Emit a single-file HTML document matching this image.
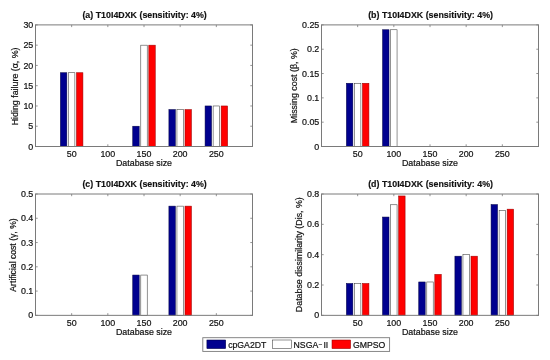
<!DOCTYPE html>
<html lang="en"><head><meta charset="utf-8"><title>T10I4DXK (sensitivity: 4%)</title>
<style>html,body{margin:0;padding:0;background:#fff}body{width:550px;height:360px;overflow:hidden}svg{display:block}</style>
</head><body>
<svg width="550" height="360" viewBox="0 0 550 360" font-family="&quot;Liberation Sans&quot;, sans-serif">
<rect width="550" height="360" fill="#fff"/>
<g><path d="M35.5 146.50h2.2M252.5 146.50h-2.2M35.5 126.23h2.2M252.5 126.23h-2.2M35.5 105.97h2.2M252.5 105.97h-2.2M35.5 85.70h2.2M252.5 85.70h-2.2M35.5 65.43h2.2M252.5 65.43h-2.2M35.5 45.17h2.2M252.5 45.17h-2.2M35.5 24.90h2.2M252.5 24.90h-2.2M71.67 146.5v-2.2M71.67 24.9v2.2M107.83 146.5v-2.2M107.83 24.9v2.2M144.00 146.5v-2.2M144.00 24.9v2.2M180.17 146.5v-2.2M180.17 24.9v2.2M216.33 146.5v-2.2M216.33 24.9v2.2" stroke="#7a7a7a" stroke-width="0.8" fill="none"/><rect x="60.41" y="72.73" width="6.43" height="73.77" fill="#00008f" stroke="#000048" stroke-width="0.55"/><rect x="68.45" y="72.73" width="6.43" height="73.77" fill="#ffffff" stroke="#3a3a3a" stroke-width="0.55"/><rect x="76.49" y="72.73" width="6.43" height="73.77" fill="#ff0000" stroke="#9a0000" stroke-width="0.55"/><rect x="132.75" y="126.23" width="6.43" height="20.27" fill="#00008f" stroke="#000048" stroke-width="0.55"/><rect x="140.79" y="45.17" width="6.43" height="101.33" fill="#ffffff" stroke="#3a3a3a" stroke-width="0.55"/><rect x="148.82" y="45.17" width="6.43" height="101.33" fill="#ff0000" stroke="#9a0000" stroke-width="0.55"/><rect x="168.91" y="109.61" width="6.43" height="36.89" fill="#00008f" stroke="#000048" stroke-width="0.55"/><rect x="176.95" y="109.61" width="6.43" height="36.89" fill="#ffffff" stroke="#3a3a3a" stroke-width="0.55"/><rect x="184.99" y="109.61" width="6.43" height="36.89" fill="#ff0000" stroke="#9a0000" stroke-width="0.55"/><rect x="205.08" y="105.97" width="6.43" height="40.53" fill="#00008f" stroke="#000048" stroke-width="0.55"/><rect x="213.12" y="105.97" width="6.43" height="40.53" fill="#ffffff" stroke="#3a3a3a" stroke-width="0.55"/><rect x="221.16" y="105.97" width="6.43" height="40.53" fill="#ff0000" stroke="#9a0000" stroke-width="0.55"/><path d="M35.0 24.9H253.0M35.0 146.5H253.0M35.5 24.9V146.5M252.5 24.9V146.5" fill="none" stroke="#7a7a7a" stroke-width="1"/><text x="33.3" y="149.60" font-size="8.9" text-anchor="end" fill="#111" stroke="#111" stroke-width="0.2">0</text><text x="33.3" y="129.33" font-size="8.9" text-anchor="end" fill="#111" stroke="#111" stroke-width="0.2">5</text><text x="33.3" y="109.07" font-size="8.9" text-anchor="end" fill="#111" stroke="#111" stroke-width="0.2">10</text><text x="33.3" y="88.80" font-size="8.9" text-anchor="end" fill="#111" stroke="#111" stroke-width="0.2">15</text><text x="33.3" y="68.53" font-size="8.9" text-anchor="end" fill="#111" stroke="#111" stroke-width="0.2">20</text><text x="33.3" y="48.27" font-size="8.9" text-anchor="end" fill="#111" stroke="#111" stroke-width="0.2">25</text><text x="33.3" y="28.00" font-size="8.9" text-anchor="end" fill="#111" stroke="#111" stroke-width="0.2">30</text><text x="71.67" y="156.75" font-size="8.9" text-anchor="middle" fill="#111" stroke="#111" stroke-width="0.2">50</text><text x="107.83" y="156.75" font-size="8.9" text-anchor="middle" fill="#111" stroke="#111" stroke-width="0.2">100</text><text x="144.00" y="156.75" font-size="8.9" text-anchor="middle" fill="#111" stroke="#111" stroke-width="0.2">150</text><text x="180.17" y="156.75" font-size="8.9" text-anchor="middle" fill="#111" stroke="#111" stroke-width="0.2">200</text><text x="216.33" y="156.75" font-size="8.9" text-anchor="middle" fill="#111" stroke="#111" stroke-width="0.2">250</text><text x="144.00" y="166.0" font-size="8.85" text-anchor="middle" fill="#111" stroke="#111" stroke-width="0.2">Database size</text><text x="144.60" y="18.05" font-size="8.85" font-weight="bold" text-anchor="middle" fill="#111" stroke="#111" stroke-width="0.15">(a) T10I4DXK (sensitivity: 4%)</text><text transform="translate(18.1,86.40) rotate(-90)" font-size="8.85" text-anchor="middle" fill="#111" stroke="#111" stroke-width="0.2">Hiding failure (α, %)</text></g>
<g><path d="M321.5 146.50h2.2M538.5 146.50h-2.2M321.5 122.18h2.2M538.5 122.18h-2.2M321.5 97.86h2.2M538.5 97.86h-2.2M321.5 73.54h2.2M538.5 73.54h-2.2M321.5 49.22h2.2M538.5 49.22h-2.2M321.5 24.90h2.2M538.5 24.90h-2.2M357.67 146.5v-2.2M357.67 24.9v2.2M393.83 146.5v-2.2M393.83 24.9v2.2M430.00 146.5v-2.2M430.00 24.9v2.2M466.17 146.5v-2.2M466.17 24.9v2.2M502.33 146.5v-2.2M502.33 24.9v2.2" stroke="#7a7a7a" stroke-width="0.8" fill="none"/><rect x="346.41" y="83.27" width="6.43" height="63.23" fill="#00008f" stroke="#000048" stroke-width="0.55"/><rect x="354.45" y="83.27" width="6.43" height="63.23" fill="#ffffff" stroke="#3a3a3a" stroke-width="0.55"/><rect x="362.49" y="83.27" width="6.43" height="63.23" fill="#ff0000" stroke="#9a0000" stroke-width="0.55"/><rect x="382.58" y="29.76" width="6.43" height="116.74" fill="#00008f" stroke="#000048" stroke-width="0.55"/><rect x="390.62" y="29.76" width="6.43" height="116.74" fill="#ffffff" stroke="#3a3a3a" stroke-width="0.55"/><path d="M321.0 24.9H539.0M321.0 146.5H539.0M321.5 24.9V146.5M538.5 24.9V146.5" fill="none" stroke="#7a7a7a" stroke-width="1"/><text x="319.3" y="149.60" font-size="8.9" text-anchor="end" fill="#111" stroke="#111" stroke-width="0.2">0</text><text x="319.3" y="125.28" font-size="8.9" text-anchor="end" fill="#111" stroke="#111" stroke-width="0.2">0.05</text><text x="319.3" y="100.96" font-size="8.9" text-anchor="end" fill="#111" stroke="#111" stroke-width="0.2">0.1</text><text x="319.3" y="76.64" font-size="8.9" text-anchor="end" fill="#111" stroke="#111" stroke-width="0.2">0.15</text><text x="319.3" y="52.32" font-size="8.9" text-anchor="end" fill="#111" stroke="#111" stroke-width="0.2">0.2</text><text x="319.3" y="28.00" font-size="8.9" text-anchor="end" fill="#111" stroke="#111" stroke-width="0.2">0.25</text><text x="357.67" y="156.75" font-size="8.9" text-anchor="middle" fill="#111" stroke="#111" stroke-width="0.2">50</text><text x="393.83" y="156.75" font-size="8.9" text-anchor="middle" fill="#111" stroke="#111" stroke-width="0.2">100</text><text x="430.00" y="156.75" font-size="8.9" text-anchor="middle" fill="#111" stroke="#111" stroke-width="0.2">150</text><text x="466.17" y="156.75" font-size="8.9" text-anchor="middle" fill="#111" stroke="#111" stroke-width="0.2">200</text><text x="502.33" y="156.75" font-size="8.9" text-anchor="middle" fill="#111" stroke="#111" stroke-width="0.2">250</text><text x="430.00" y="166.0" font-size="8.85" text-anchor="middle" fill="#111" stroke="#111" stroke-width="0.2">Database size</text><text x="430.60" y="18.05" font-size="8.85" font-weight="bold" text-anchor="middle" fill="#111" stroke="#111" stroke-width="0.15">(b) T10I4DXK (sensitivity: 4%)</text><text transform="translate(297.0,85.70) rotate(-90)" font-size="8.85" text-anchor="middle" fill="#111" stroke="#111" stroke-width="0.2">Missing cost (β, %)</text></g>
<g><path d="M35.5 315.35h2.2M252.5 315.35h-2.2M35.5 291.08h2.2M252.5 291.08h-2.2M35.5 266.81h2.2M252.5 266.81h-2.2M35.5 242.54h2.2M252.5 242.54h-2.2M35.5 218.27h2.2M252.5 218.27h-2.2M35.5 194.00h2.2M252.5 194.00h-2.2M71.67 315.35v-2.2M71.67 194.0v2.2M107.83 315.35v-2.2M107.83 194.0v2.2M144.00 315.35v-2.2M144.00 194.0v2.2M180.17 315.35v-2.2M180.17 194.0v2.2M216.33 315.35v-2.2M216.33 194.0v2.2" stroke="#7a7a7a" stroke-width="0.8" fill="none"/><rect x="132.75" y="275.06" width="6.43" height="40.29" fill="#00008f" stroke="#000048" stroke-width="0.55"/><rect x="140.79" y="275.06" width="6.43" height="40.29" fill="#ffffff" stroke="#3a3a3a" stroke-width="0.55"/><rect x="168.91" y="206.13" width="6.43" height="109.22" fill="#00008f" stroke="#000048" stroke-width="0.55"/><rect x="176.95" y="206.13" width="6.43" height="109.22" fill="#ffffff" stroke="#3a3a3a" stroke-width="0.55"/><rect x="184.99" y="206.13" width="6.43" height="109.22" fill="#ff0000" stroke="#9a0000" stroke-width="0.55"/><path d="M35.0 194.0H253.0M35.0 315.35H253.0M35.5 194.0V315.35M252.5 194.0V315.35" fill="none" stroke="#7a7a7a" stroke-width="1"/><text x="33.3" y="318.45" font-size="8.9" text-anchor="end" fill="#111" stroke="#111" stroke-width="0.2">0</text><text x="33.3" y="294.18" font-size="8.9" text-anchor="end" fill="#111" stroke="#111" stroke-width="0.2">0.1</text><text x="33.3" y="269.91" font-size="8.9" text-anchor="end" fill="#111" stroke="#111" stroke-width="0.2">0.2</text><text x="33.3" y="245.64" font-size="8.9" text-anchor="end" fill="#111" stroke="#111" stroke-width="0.2">0.3</text><text x="33.3" y="221.37" font-size="8.9" text-anchor="end" fill="#111" stroke="#111" stroke-width="0.2">0.4</text><text x="33.3" y="197.10" font-size="8.9" text-anchor="end" fill="#111" stroke="#111" stroke-width="0.2">0.5</text><text x="71.67" y="325.60" font-size="8.9" text-anchor="middle" fill="#111" stroke="#111" stroke-width="0.2">50</text><text x="107.83" y="325.60" font-size="8.9" text-anchor="middle" fill="#111" stroke="#111" stroke-width="0.2">100</text><text x="144.00" y="325.60" font-size="8.9" text-anchor="middle" fill="#111" stroke="#111" stroke-width="0.2">150</text><text x="180.17" y="325.60" font-size="8.9" text-anchor="middle" fill="#111" stroke="#111" stroke-width="0.2">200</text><text x="216.33" y="325.60" font-size="8.9" text-anchor="middle" fill="#111" stroke="#111" stroke-width="0.2">250</text><text x="144.00" y="334.85" font-size="8.85" text-anchor="middle" fill="#111" stroke="#111" stroke-width="0.2">Database size</text><text x="144.60" y="187.15" font-size="8.85" font-weight="bold" text-anchor="middle" fill="#111" stroke="#111" stroke-width="0.15">(c) T10I4DXK (sensitivity: 4%)</text><text transform="translate(15.6,254.98) rotate(-90)" font-size="8.65" text-anchor="middle" fill="#111" stroke="#111" stroke-width="0.2">Artificial cost (γ, %)</text></g>
<g><path d="M321.5 315.35h2.2M538.5 315.35h-2.2M321.5 285.01h2.2M538.5 285.01h-2.2M321.5 254.68h2.2M538.5 254.68h-2.2M321.5 224.34h2.2M538.5 224.34h-2.2M321.5 194.00h2.2M538.5 194.00h-2.2M357.67 315.35v-2.2M357.67 194.0v2.2M393.83 315.35v-2.2M393.83 194.0v2.2M430.00 315.35v-2.2M430.00 194.0v2.2M466.17 315.35v-2.2M466.17 194.0v2.2M502.33 315.35v-2.2M502.33 194.0v2.2" stroke="#7a7a7a" stroke-width="0.8" fill="none"/><rect x="346.41" y="283.50" width="6.43" height="31.85" fill="#00008f" stroke="#000048" stroke-width="0.55"/><rect x="354.45" y="283.50" width="6.43" height="31.85" fill="#ffffff" stroke="#3a3a3a" stroke-width="0.55"/><rect x="362.49" y="283.50" width="6.43" height="31.85" fill="#ff0000" stroke="#9a0000" stroke-width="0.55"/><rect x="382.58" y="217.06" width="6.43" height="98.29" fill="#00008f" stroke="#000048" stroke-width="0.55"/><rect x="390.62" y="204.77" width="6.43" height="110.58" fill="#ffffff" stroke="#3a3a3a" stroke-width="0.55"/><rect x="398.66" y="195.97" width="6.43" height="119.38" fill="#ff0000" stroke="#9a0000" stroke-width="0.55"/><rect x="418.75" y="281.98" width="6.43" height="33.37" fill="#00008f" stroke="#000048" stroke-width="0.55"/><rect x="426.79" y="281.98" width="6.43" height="33.37" fill="#ffffff" stroke="#3a3a3a" stroke-width="0.55"/><rect x="434.82" y="274.39" width="6.43" height="40.96" fill="#ff0000" stroke="#9a0000" stroke-width="0.55"/><rect x="454.91" y="256.19" width="6.43" height="59.16" fill="#00008f" stroke="#000048" stroke-width="0.55"/><rect x="462.95" y="254.68" width="6.43" height="60.68" fill="#ffffff" stroke="#3a3a3a" stroke-width="0.55"/><rect x="470.99" y="256.19" width="6.43" height="59.16" fill="#ff0000" stroke="#9a0000" stroke-width="0.55"/><rect x="491.08" y="204.62" width="6.43" height="110.73" fill="#00008f" stroke="#000048" stroke-width="0.55"/><rect x="499.12" y="210.69" width="6.43" height="104.66" fill="#ffffff" stroke="#3a3a3a" stroke-width="0.55"/><rect x="507.16" y="209.17" width="6.43" height="106.18" fill="#ff0000" stroke="#9a0000" stroke-width="0.55"/><path d="M321.0 194.0H539.0M321.0 315.35H539.0M321.5 194.0V315.35M538.5 194.0V315.35" fill="none" stroke="#7a7a7a" stroke-width="1"/><text x="319.3" y="318.45" font-size="8.9" text-anchor="end" fill="#111" stroke="#111" stroke-width="0.2">0</text><text x="319.3" y="288.11" font-size="8.9" text-anchor="end" fill="#111" stroke="#111" stroke-width="0.2">0.2</text><text x="319.3" y="257.78" font-size="8.9" text-anchor="end" fill="#111" stroke="#111" stroke-width="0.2">0.4</text><text x="319.3" y="227.44" font-size="8.9" text-anchor="end" fill="#111" stroke="#111" stroke-width="0.2">0.6</text><text x="319.3" y="197.10" font-size="8.9" text-anchor="end" fill="#111" stroke="#111" stroke-width="0.2">0.8</text><text x="357.67" y="325.60" font-size="8.9" text-anchor="middle" fill="#111" stroke="#111" stroke-width="0.2">50</text><text x="393.83" y="325.60" font-size="8.9" text-anchor="middle" fill="#111" stroke="#111" stroke-width="0.2">100</text><text x="430.00" y="325.60" font-size="8.9" text-anchor="middle" fill="#111" stroke="#111" stroke-width="0.2">150</text><text x="466.17" y="325.60" font-size="8.9" text-anchor="middle" fill="#111" stroke="#111" stroke-width="0.2">200</text><text x="502.33" y="325.60" font-size="8.9" text-anchor="middle" fill="#111" stroke="#111" stroke-width="0.2">250</text><text x="430.00" y="334.85" font-size="8.85" text-anchor="middle" fill="#111" stroke="#111" stroke-width="0.2">Database size</text><text x="430.60" y="187.15" font-size="8.85" font-weight="bold" text-anchor="middle" fill="#111" stroke="#111" stroke-width="0.15">(d) T10I4DXK (sensitivity: 4%)</text><text transform="translate(302.3,254.68) rotate(-90)" font-size="8.85" text-anchor="middle" fill="#111" stroke="#111" stroke-width="0.2">Databse dissimilarity (Dis, %)</text></g>
<rect x="202.8" y="337.7" width="186.8" height="13.7" fill="#fff" stroke="#7a7a7a" stroke-width="0.9"/>
<rect x="206.9" y="340.0" width="18.8" height="8.6" fill="#00008f" stroke="#000048" stroke-width="0.55"/>
<text x="228.2" y="347.8" font-size="8.7" fill="#111" stroke="#111" stroke-width="0.2">cpGA2DT</text>
<rect x="272.5" y="340.0" width="19.2" height="8.6" fill="#ffffff" stroke="#3a3a3a" stroke-width="0.55"/>
<text x="293.6" y="347.8" font-size="8.7" fill="#111" stroke="#111" stroke-width="0.2">NSGA<tspan font-size="6.4" dx="0.6" dy="-0.9">−</tspan><tspan dx="0.9" dy="0.9">II</tspan></text>
<rect x="332.0" y="340.0" width="18.6" height="8.6" fill="#ff0000" stroke="#9a0000" stroke-width="0.55"/>
<text x="353.0" y="347.8" font-size="8.7" fill="#111" stroke="#111" stroke-width="0.2">GMPSO</text>
</svg>
</body></html>
